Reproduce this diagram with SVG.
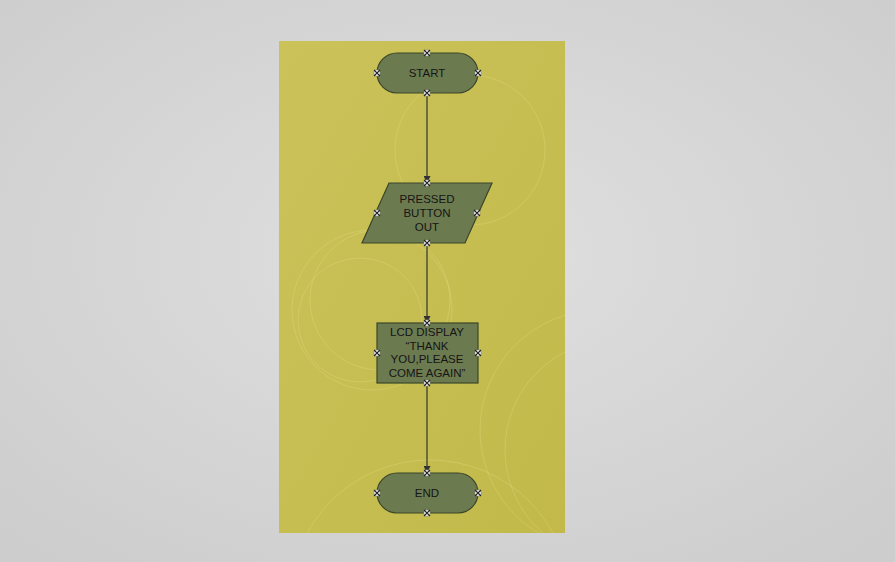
<svg xmlns="http://www.w3.org/2000/svg" width="895" height="562" viewBox="0 0 895 562">
<defs>
<radialGradient id="bg" cx="50%" cy="45%" r="70%">
<stop offset="0" stop-color="#e0e0e0"/>
<stop offset="1" stop-color="#cdcdcd"/>
</radialGradient>
<linearGradient id="panel" x1="0" y1="0" x2="1" y2="1">
<stop offset="0" stop-color="#cbc35a"/>
<stop offset="1" stop-color="#c2b94a"/>
</linearGradient>
<clipPath id="pc"><rect x="279" y="41" width="286" height="492"/></clipPath>
<marker id="arr" viewBox="0 0 10 10" refX="10" refY="5" markerWidth="7" markerHeight="7" orient="auto" markerUnits="userSpaceOnUse">
<path d="M0,0 L10,5 L0,10 z" fill="#333"/>
</marker>
<g id="hx">
<circle r="3.2" fill="#fff" stroke="#555" stroke-width="0.5"/>
<path d="M-3,-3 L3,3 M-3,3 L3,-3" stroke="#222" stroke-width="1.1"/>
</g>
</defs>
<style>
.node{fill:#6c7a50;stroke:#3b4629;stroke-width:1.2}
.lbl{font-family:"Liberation Sans",Arial,sans-serif;font-size:11.5px;fill:#151515;text-anchor:middle;dominant-baseline:central}
.conn{stroke:#333;stroke-width:1.2;fill:none}
.deco{fill:none;stroke:#e6e08a;stroke-width:1;opacity:0.3}
</style>
<rect width="895" height="562" fill="url(#bg)"/>
<rect x="279" y="41" width="286" height="492" fill="url(#panel)"/>
<g clip-path="url(#pc)">
<circle class="deco" cx="372" cy="310" r="80"/>
<circle class="deco" cx="380" cy="300" r="70"/>
<circle class="deco" cx="360" cy="320" r="62"/>
<circle class="deco" cx="470" cy="150" r="75"/>
<circle class="deco" cx="600" cy="430" r="120"/>
<circle class="deco" cx="615" cy="450" r="110"/>
<circle class="deco" cx="430" cy="600" r="140"/>
</g>
<g id="connectors">
<line class="conn" x1="427" y1="93" x2="427" y2="183" marker-end="url(#arr)"/>
<line class="conn" x1="427" y1="243" x2="427" y2="323" marker-end="url(#arr)"/>
<line class="conn" x1="427" y1="383" x2="427" y2="473" marker-end="url(#arr)"/>
</g>
<g id="start">
<rect class="node" x="377" y="53" width="101" height="40" rx="20"/>
<text class="lbl" x="427" y="73">START</text>
<use href="#hx" x="427" y="53"/><use href="#hx" x="427" y="93"/><use href="#hx" x="377" y="73"/><use href="#hx" x="478" y="73"/>
</g>
<g id="input">
<polygon class="node" points="389,183 492,183 465,243 362,243"/>
<text class="lbl" x="427" y="199">PRESSED</text>
<text class="lbl" x="427" y="213">BUTTON</text>
<text class="lbl" x="427" y="227">OUT</text>
<use href="#hx" x="427" y="183"/><use href="#hx" x="427" y="243"/><use href="#hx" x="377" y="213"/><use href="#hx" x="477" y="213"/>
</g>
<g id="display">
<rect class="node" x="377" y="323" width="101" height="60"/>
<text class="lbl" x="427" y="332">LCD DISPLAY</text>
<text class="lbl" x="427" y="346">“THANK</text>
<text class="lbl" x="427" y="359">YOU,PLEASE</text>
<text class="lbl" x="427" y="373">COME AGAIN”</text>
<use href="#hx" x="427" y="323"/><use href="#hx" x="427" y="383"/><use href="#hx" x="377" y="353"/><use href="#hx" x="478" y="353"/>
</g>
<g id="end">
<rect class="node" x="377" y="473" width="101" height="40" rx="20"/>
<text class="lbl" x="427" y="493">END</text>
<use href="#hx" x="427" y="473"/><use href="#hx" x="427" y="513"/><use href="#hx" x="377" y="493"/><use href="#hx" x="478" y="493"/>
</g>
</svg>
